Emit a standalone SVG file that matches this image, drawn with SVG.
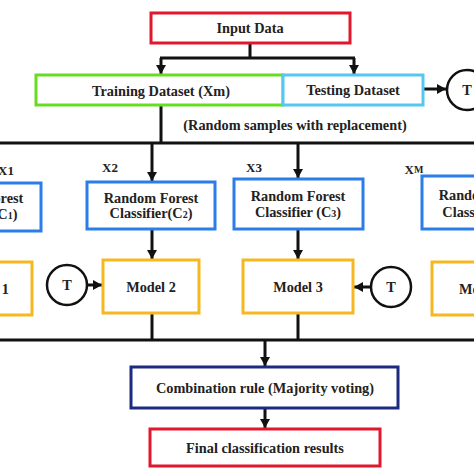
<svg xmlns="http://www.w3.org/2000/svg" width="474" height="474" viewBox="0 0 474 474">
<style>
.box{fill:#fff;stroke-width:3}
.red{stroke:#e0182d}.green{stroke:#66dd22}.cyan{stroke:#55c8f0}.blue{stroke:#2b7de9}.yel{stroke:#f5b820}.navy{stroke:#1c2a80}
.circ{fill:#fff;stroke:#111;stroke-width:2.5}
text{font-family:"Liberation Serif","DejaVu Serif",serif;font-weight:bold;font-size:14.3px;fill:#222;text-anchor:middle;dominant-baseline:central}
.lbl{font-size:13px}
.con line{stroke:#111;stroke-width:3}
</style>
<defs>
<marker id="ah" markerUnits="userSpaceOnUse" markerWidth="12" markerHeight="12" refX="9" refY="5" orient="auto">
<path d="M0,0 L9,5 L0,10 z" fill="#111"/>
</marker>
</defs>
<rect width="474" height="474" fill="#fff"/>
<g class="con">
<line x1="250" y1="43" x2="250" y2="58"/>
<line x1="160" y1="58" x2="355" y2="58"/>
<line x1="161" y1="58" x2="161" y2="74" marker-end="url(#ah)"/>
<line x1="354" y1="58" x2="354" y2="74" marker-end="url(#ah)"/>
<line x1="423" y1="89" x2="446" y2="89" marker-end="url(#ah)"/>
<line x1="161" y1="105" x2="161" y2="143"/>
<line x1="0" y1="143" x2="474" y2="143"/>
<line x1="152" y1="143" x2="152" y2="181" marker-end="url(#ah)"/>
<line x1="298" y1="143" x2="298" y2="178" marker-end="url(#ah)"/>
<line x1="152" y1="229" x2="152" y2="259" marker-end="url(#ah)"/>
<line x1="298" y1="229" x2="298" y2="259" marker-end="url(#ah)"/>
<line x1="87" y1="285" x2="102" y2="285" marker-end="url(#ah)"/>
<line x1="371" y1="287" x2="354" y2="287" marker-end="url(#ah)"/>
<line x1="152" y1="313" x2="152" y2="340"/>
<line x1="298" y1="313" x2="298" y2="340"/>
<line x1="0" y1="340" x2="474" y2="340"/>
<line x1="265" y1="340" x2="265" y2="366" marker-end="url(#ah)"/>
<line x1="265" y1="408" x2="265" y2="428" marker-end="url(#ah)"/>
</g>
<g id="input"><rect class="box red" x="151" y="13" width="199" height="30"/><text x="250" y="28">Input Data</text></g>
<g id="training"><rect class="box green" x="36" y="75" width="247" height="30"/><text x="161" y="91">Training Dataset (Xm)</text></g>
<g id="testing"><rect class="box cyan" x="283" y="75" width="140" height="30"/><text x="353" y="90">Testing Dataset</text></g>
<g id="t-top"><circle class="circ" cx="467" cy="90" r="20"/><text x="467" y="90">T</text></g>
<text x="295" y="125">(Random samples with replacement)</text>
<g id="rf1"><text class="lbl" x="6" y="170">X1</text><rect class="box blue" x="-87" y="183" width="128" height="48"/><text x="-24" y="198">Random Forest</text><text x="-24" y="214">Classifier(C<tspan font-size="10" dy="1">1</tspan><tspan dy="-1">)</tspan></text></g>
<g id="rf2"><text class="lbl" x="110" y="167">X2</text><rect class="box blue" x="87" y="182" width="128" height="47"/><text x="151" y="198">Random Forest</text><text x="151" y="213">Classifier(C<tspan font-size="10" dy="1">2</tspan><tspan dy="-1">)</tspan></text></g>
<g id="rf3"><text class="lbl" x="254" y="167">X3</text><rect class="box blue" x="234" y="179" width="129" height="50"/><text x="298" y="196">Random Forest</text><text x="298" y="212">Classifier (C<tspan font-size="10" dy="1">3</tspan><tspan dy="-1">)</tspan></text></g>
<g id="rfm"><text class="lbl" x="414" y="169">X<tspan font-size="10">M</tspan></text><rect class="box blue" x="422" y="176" width="128" height="53"/><text x="486" y="195">Random Forest</text><text x="486" y="212">Classifier(C<tspan font-size="10" dy="1">M</tspan><tspan dy="-1">)</tspan></text></g>
<g id="model1"><rect class="box yel" x="-64" y="262" width="96" height="53"/><text x="-16" y="289">Model 1</text></g>
<g id="model2"><rect class="box yel" x="103" y="260" width="96" height="53"/><text x="151" y="287">Model 2</text></g>
<g id="model3"><rect class="box yel" x="243" y="260" width="110" height="53"/><text x="298" y="287">Model 3</text></g>
<g id="modelm"><rect class="box yel" x="432" y="262" width="110" height="53"/><text x="487" y="289">Model M</text></g>
<g id="t-left"><circle class="circ" cx="67" cy="285" r="20"/><text x="67" y="285">T</text></g>
<g id="t-right"><circle class="circ" cx="391" cy="287" r="20"/><text x="391" y="287">T</text></g>
<g id="combine"><rect class="box navy" x="131" y="367" width="267" height="41"/><text x="265" y="388">Combination rule (Majority voting)</text></g>
<g id="final"><rect class="box red" x="150" y="429" width="230" height="37"/><text x="265" y="448">Final classification  results</text></g>
</svg>
